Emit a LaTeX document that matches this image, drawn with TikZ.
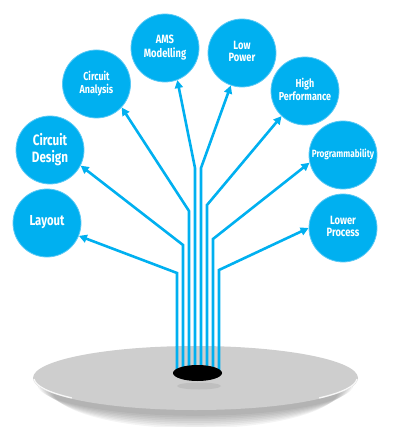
\documentclass[tikz,border=0pt]{standalone}
\usepackage{fontspec}
\setmainfont{Fira Sans}
\usetikzlibrary{arrows.meta,shadows.blur}
\definecolor{tb}{RGB}{0,176,240}
\definecolor{tbedge}{RGB}{90,200,245}
\definecolor{diskface}{RGB}{206,206,206}
\newcommand\lbl[3]{\scalebox{0.78}[1]{\fontsize{#1}{#2}\selectfont\bfseries\begin{tabular}{@{}c@{}}#3\end{tabular}}}
\tikzset{
  bub/.style={circle, fill=tb, draw=tbedge, line width=0.8pt, minimum size=68pt, inner sep=0pt, text=white},
  wire/.style={draw=tb, line width=2.6pt, -{Triangle[length=8pt,width=8pt]}},
}
\begin{document}
\begin{tikzpicture}[x=1pt,y=-1pt]
\useasboundingbox (0,0) rectangle (414,427);
% disk shadow
\foreach \i in {1,...,8}{
  \fill[black, opacity=0.045] (195.5,384+0.6*\i) ellipse [x radius=160-2*\i, y radius=30+1.2*\i];
}
% disk
\fill[diskface] (195.5,378) ellipse [x radius=162.5, y radius=32];
\draw[white, line width=1.3pt, opacity=0.85] (195.5,378) ++(178:161.5 and 31) arc[start angle=178, end angle=140, x radius=161.5, y radius=31];
\draw[white, line width=1.3pt, opacity=0.85] (195.5,378) ++(2:161.5 and 31) arc[start angle=2, end angle=40, x radius=161.5, y radius=31];
\fill[gray!60, opacity=0.5] (199,386) ellipse [x radius=22, y radius=3.5];
% bubbles
\node[bub] (lay) at (47,223) {\lbl{14.5}{15}{Layout}};
\node[bub] (cd)  at (50,150) {\lbl{15}{16}{Circuit\\Design}};
\node[bub] (ca)  at (96.5,84) {\lbl{11.5}{12}{Circuit\\Analysis}};
\node[bub] (ams) at (165,48) {\lbl{12}{12}{AMS\\Modelling}};
\node[bub] (lp)  at (242,53) {\lbl{12}{12.5}{Low\\Power}};
\node[bub] (hp)  at (305,91) {\lbl{11.5}{12.5}{High\\Performance}};
\node[bub] (pr)  at (343,155) {\lbl{10.5}{12}{Programmability}};
\node[bub] (lo)  at (343,228) {\lbl{12}{12.5}{Lower\\Process}};
% roots and bends
\coordinate (r1) at (177,372); \coordinate (k1) at (177,273);
\coordinate (r2) at (183,372); \coordinate (k2) at (183,245);
\coordinate (r3) at (189,372); \coordinate (k3) at (189,211);
\coordinate (r4) at (195,372); \coordinate (k4) at (195,168);
\coordinate (r5) at (201,372); \coordinate (k5) at (201,168);
\coordinate (r6) at (207,372); \coordinate (k6) at (207,205);
\coordinate (r7) at (213,372); \coordinate (k7) at (213,239);
\coordinate (r8) at (219,372); \coordinate (k8) at (219,270);
\draw[wire] (r1) -- (k1) -- (lay.-22);
\draw[wire] (r2) -- (k2) -- (cd.-27);
\draw[wire] (r3) -- (k3) -- (ca.-43);
\draw[wire] (r4) -- (k4) -- (ams.-69);
\draw[wire] (r5) -- (k5) -- (lp.-109);
\draw[wire] (r6) -- (k6) -- (hp.-133);
\draw[wire] (r7) -- (k7) -- (pr.193);
\draw[wire] (r8) -- (k8) -- (lo.180);
% hole
\fill[black] (197.5,373) ellipse [x radius=24.5, y radius=8];
\end{tikzpicture}
\end{document}
